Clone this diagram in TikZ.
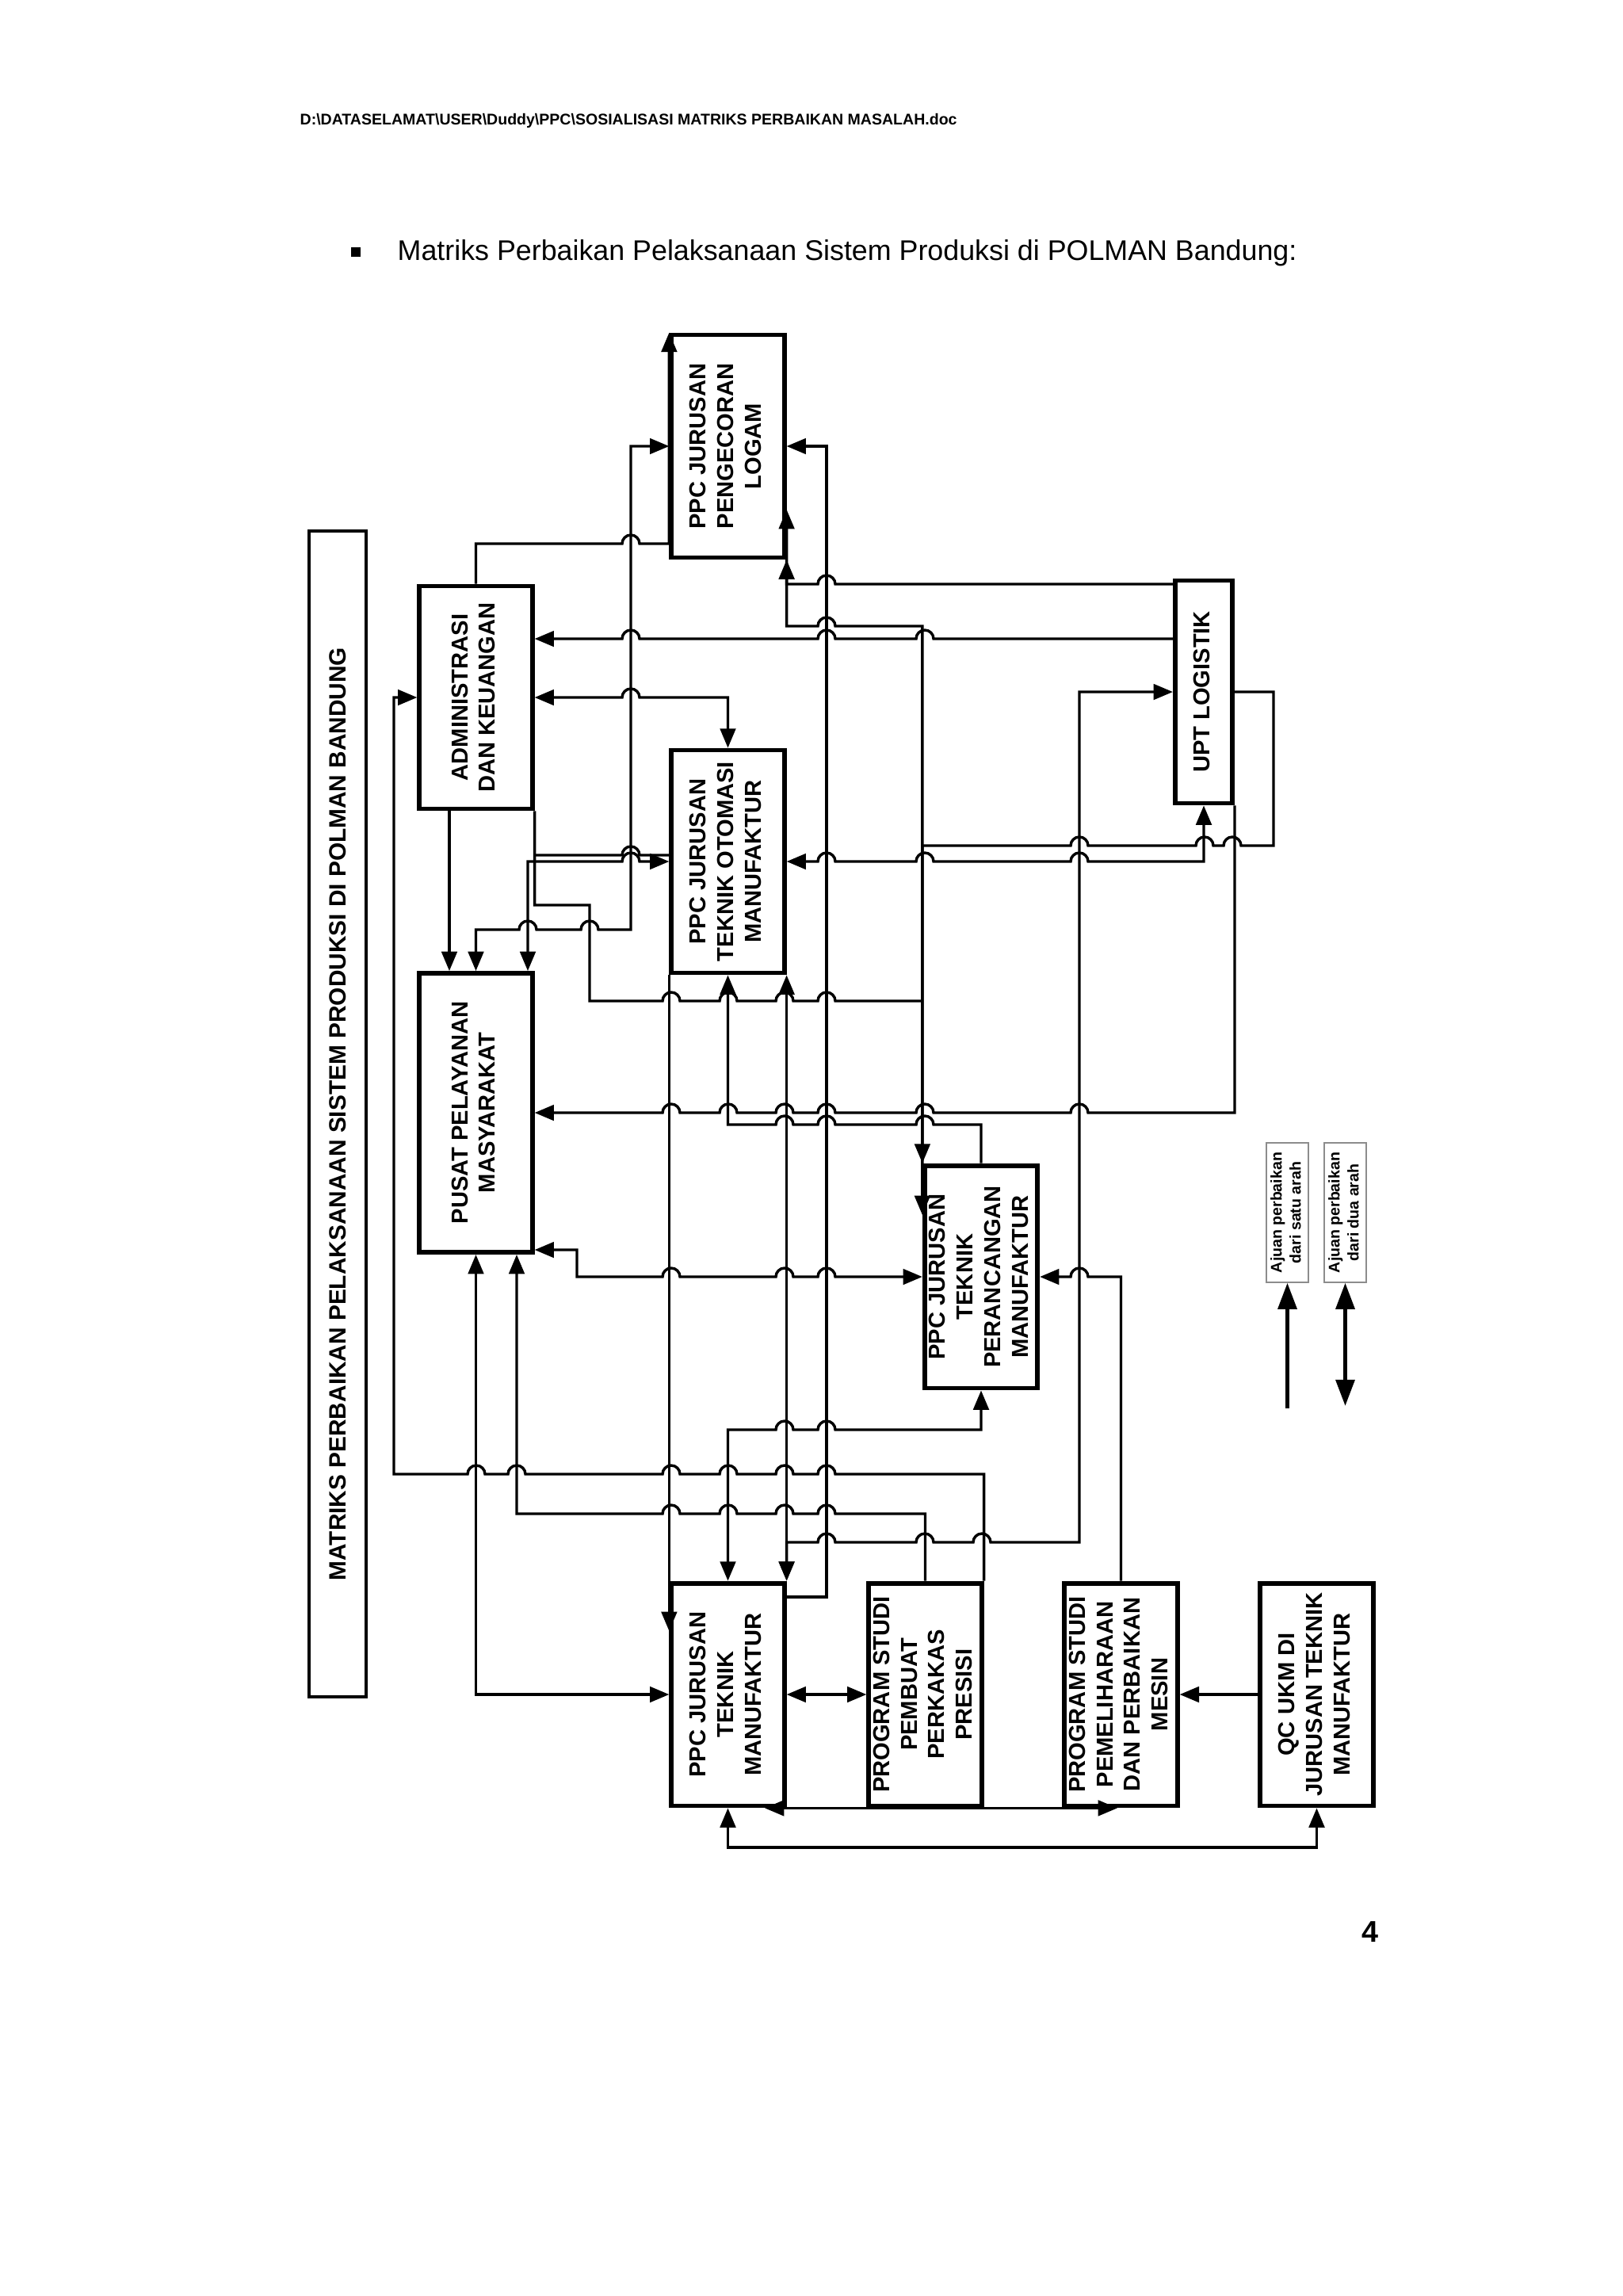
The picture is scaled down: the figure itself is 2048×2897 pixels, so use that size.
\documentclass[tikz,border=0pt]{standalone}
\usepackage{fontspec}
\setmainfont{Liberation Sans}
\usepackage{graphicx}
\usetikzlibrary{arrows.meta, positioning}
\newcommand{\vtext}[1]{\rotatebox{90}{\begin{tabular}{@{}c@{}}#1\end{tabular}}}
% hop over a vertical line, going right / going left
\newcommand{\hopr}[2]{-- ({#1-11},#2) arc[start angle=180,end angle=0,radius=1.128mm]}
\newcommand{\hopl}[2]{-- ({#1+11},#2) arc[start angle=0,end angle=180,radius=1.128mm]}
\tikzset{
    unitbox/.style={rectangle, draw=black, line width=1.7pt, minimum width=14.6mm, minimum height=28.8mm, inner sep=0pt, font=\bfseries\fontsize{8.5}{10.2}\selectfont},
    narrowbox/.style={unitbox, minimum width=7.4mm},
    titlebox/.style={rectangle, draw=black, line width=1.1pt, minimum width=7.4mm, minimum height=150.8mm, inner sep=0pt, font=\bfseries\fontsize{8.7}{10.4}\selectfont},
    legendbox/.style={rectangle, draw=black!45, line width=0.5pt, minimum width=5.4mm, minimum height=18mm, inner sep=0pt, font=\bfseries\fontsize{5.7}{7}\selectfont},
    flow/.style={line width=1pt, black},
    flowarr/.style={flow, -{Triangle[length=2.5mm, width=2mm]}},
    flowboth/.style={flow, {Triangle[length=2.5mm, width=2mm]}-{Triangle[length=2.5mm, width=2mm]}},
    legarr/.style={line width=1.5pt, -{Triangle[length=3.4mm, width=2.4mm]}},
    legboth/.style={line width=1.5pt, {Triangle[length=3.4mm, width=2.4mm]}-{Triangle[length=3.4mm, width=2.4mm]}},
}
\begin{document}
\begin{tikzpicture}[x=0.10254mm, y=-0.10254mm]
\useasboundingbox (0,0) rectangle (2048,2897);

% Page header
\node[anchor=base west, inner sep=0pt, font=\bfseries\fontsize{5.7}{7}\selectfont] (hdr) at (378,157) {D:\textbackslash DATASELAMAT\textbackslash USER\textbackslash Duddy\textbackslash PPC\textbackslash SOSIALISASI MATRIKS PERBAIKAN MASALAH.doc};
\node[fill=black, minimum size=1.15mm, inner sep=0pt] (bullet) at (449,318) {};
\node[anchor=base west, inner sep=0pt, font=\fontsize{10.45}{12}\selectfont] (caption) at (501,328) {Matriks Perbaikan Pelaksanaan Sistem Produksi di POLMAN Bandung:};

% Title column
\node[titlebox] (title) at (426,1405.5) {\rotatebox{90}{MATRIKS PERBAIKAN PELAKSANAAN SISTEM PRODUKSI DI POLMAN BANDUNG}};

% Left column
\node[unitbox] (adm) at (600.5,880) {\vtext{ADMINISTRASI\\DAN KEUANGAN}};
\node[unitbox, minimum height=36.1mm] (pusat) at (600.5,1404) {\vtext{PUSAT PELAYANAN\\MASYARAKAT}};

% Middle column
\node[unitbox] (cor) at (918.5,563) {\vtext{PPC JURUSAN\\PENGECORAN\\LOGAM}};
\node[unitbox] (oto) at (918.5,1087) {\vtext{PPC JURUSAN\\TEKNIK OTOMASI\\MANUFAKTUR}};
\node[unitbox] (tm) at (918.5,2138) {\vtext{PPC JURUSAN\\TEKNIK\\MANUFAKTUR}};

% Right side
\node[narrowbox] (upt) at (1519,873) {\vtext{UPT LOGISTIK}};
\node[unitbox] (ran) at (1238,1611) {\vtext{PPC JURUSAN\\TEKNIK\\PERANCANGAN\\MANUFAKTUR}};

% Bottom row
\node[unitbox] (pkk) at (1167.5,2138) {\vtext{PROGRAM STUDI\\PEMBUAT\\PERKAKAS\\PRESISI}};
\node[unitbox] (mes) at (1414.5,2138) {\vtext{PROGRAM STUDI\\PEMELIHARAAN\\DAN PERBAIKAN\\MESIN}};
\node[unitbox] (qc) at (1661.5,2138) {\vtext{QC UKM DI\\JURUSAN TEKNIK\\MANUFAKTUR}};

% Links into Pengecoran Logam
\draw[flowarr] (adm.north) -- (adm.north |- 0,686) \hopr{796}{686} -- (cor.west |- 0,686) -- (cor.north west);
\draw[flowboth] (pusat.north) -- (pusat.north |- 0,1173) \hopr{666}{1173} \hopr{744}{1173} -- (796,1173) -- (796,563) -- (cor.west);
\draw[flowarr] (tm.east |- 0,2015) -- (1043,2015) -- (1043,563) -- (cor.east);
\draw[flowboth] (cor.east |- 0,643) -- (cor.east |- 0,790) \hopr{1043}{790} -- (ran.north west |- 0,790) -- (ran.north west);
\draw[flowarr] (upt.north west |- 0,737) \hopl{1043}{737} -- (cor.south east |- 0,737) -- (cor.south east);

% Links into Perancangan from above
\draw[flowarr] (upt.east) -- (1607,873) -- (1607,1067) \hopl{1555}{1067} \hopl{1520}{1067} \hopl{1362}{1067} -- (ran.west |- 0,1067) -- (ran.west |- 0,1533);
\draw[flow] (adm.south east) -- (adm.south east |- 0,1142) -- (744,1142) -- (744,1263) \hopr{847}{1263} \hopr{919}{1263} \hopr{990}{1263} \hopr{1043}{1263} -- (ran.west |- 0,1263);
\draw[flow] (oto.west |- 0,1079) \hopl{796}{1079} -- (adm.south east |- 0,1079);

% Administrasi dan Keuangan
\draw[flowarr] (upt.west |- 0,806) \hopl{1167}{806} \hopl{1043}{806} \hopl{796}{806} -- (adm.east |- 0,806);
\draw[flowboth] (adm.east) \hopr{796}{880} -- (oto.north |- 0,880) -- (oto.north);
\draw[flowarr] (adm.south -| 567,0) -- (pusat.north -| 567,0);

% Teknik Otomasi Manufaktur
\draw[flowboth] (pusat.north -| 666,0) -- (666,1087) \hopr{796}{1087} -- (oto.west);
\draw[flowboth] (oto.east) \hopr{1043}{1087} \hopr{1167}{1087} \hopr{1362}{1087} -- (upt.south |- 0,1087) -- (upt.south);
\draw[flowarr] (ran.north) -- (ran.north |- 0,1419) \hopl{1167}{1419} \hopl{1043}{1419} \hopl{990}{1419} -- (oto.south |- 0,1419) -- (oto.south);
\draw[flowboth] (oto.south east) -- (tm.north east);
\draw[flowarr] (oto.south west) -- (tm.west |- 0,2058);

% Pusat Pelayanan Masyarakat
\draw[flowarr] (upt.south east) -- (upt.south east |- 0,1404) \hopl{1362}{1404} \hopl{1167}{1404} \hopl{1043}{1404} \hopl{990}{1404} \hopl{919}{1404} \hopl{847}{1404} -- (pusat.east);
\draw[flowboth] (pusat.east |- 0,1577) -- (728,1577) -- (728,1611) \hopr{847}{1611} \hopr{990}{1611} \hopr{1043}{1611} -- (ran.west);
\draw[flowboth] (pusat.south) -- (pusat.south |- 0,2138) -- (tm.west);
\draw[flowarr] (pkk.north) -- (pkk.north |- 0,1910) \hopl{1043}{1910} \hopl{990}{1910} \hopl{919}{1910} \hopl{847}{1910} -- (652,1910) -- (pusat.south -| 652,0);
\draw[flowarr] (pkk.north east) -- (pkk.north east |- 0,1860) \hopl{1043}{1860} \hopl{990}{1860} \hopl{919}{1860} \hopl{847}{1860} \hopl{652}{1860} \hopl{601}{1860} -- (497,1860) -- (497,880) -- (adm.west);

% Perancangan and Teknik Manufaktur
\draw[flowarr] (mes.north) -- (mes.north |- 0,1611) \hopl{1362}{1611} -- (ran.east);
\draw[flowboth] (tm.north) -- (tm.north |- 0,1804) \hopr{990}{1804} \hopr{1043}{1804} -- (ran.south |- 0,1804) -- (ran.south);
\draw[flowboth] (upt.west) -- (1362,873) -- (1362,1946) \hopl{1239}{1946} \hopl{1167}{1946} \hopl{1043}{1946} -- (tm.north east |- 0,1946) -- (tm.north east);

% Bottom row links
\draw[flowboth] (tm.east) -- (pkk.west);
\draw[flowarr] (qc.west) -- (mes.east);
\draw[flowboth] (tm.south -| 965,0) -- (mes.south -| 1410,0);
\draw[flowboth] (tm.south) -- (tm.south |- 0,2331) -| (qc.south);

% Legend
\node[legendbox] (leg1) at (1624.5,1530) {\vtext{Ajuan perbaikan\\dari satu arah}};
\node[legendbox] (leg2) at (1697.5,1530) {\vtext{Ajuan perbaikan\\dari dua arah}};
\coordinate (leg1end) at (leg1.south |- 0,1777);
\coordinate (leg2end) at (leg2.south |- 0,1774);
\draw[legarr] (leg1end) -- (leg1.south);
\draw[legboth] (leg2end) -- (leg2.south);

% Page number
\node[font=\bfseries\fontsize{11}{13}\selectfont] (pageno) at (1729,2437) {4};
\end{tikzpicture}
\end{document}
